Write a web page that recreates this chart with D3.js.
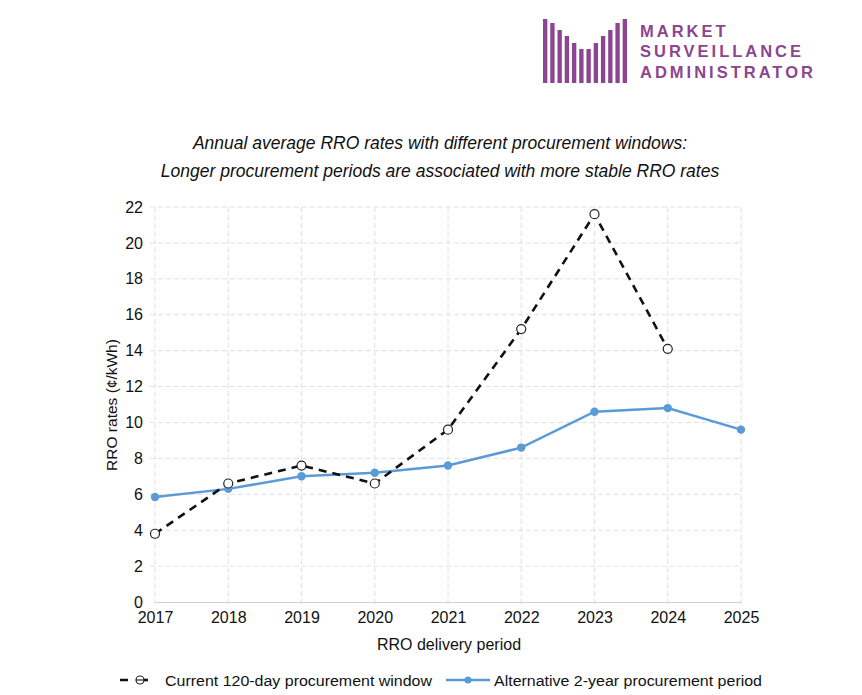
<!DOCTYPE html>
<html><head><meta charset="utf-8">
<script src="https://cdn.jsdelivr.net/npm/d3@7"></script>
<style>body{margin:0;background:#fff;} text{font-family:"Liberation Sans",Arial,sans-serif;}</style>
</head><body>
<svg id="c" width="862" height="695"></svg>
<script>
const years = [2017, 2018, 2019, 2020, 2021, 2022, 2023, 2024, 2025];
const currentYears = [2017, 2018, 2019, 2020, 2021, 2022, 2023, 2024];
const currentValues = [3.8, 6.6, 7.6, 6.6, 9.6, 15.2, 21.6, 14.1];
const altValues = [5.85, 6.3, 7.0, 7.2, 7.6, 8.6, 10.6, 10.8, 9.6];
const yTicks = [0, 2, 4, 6, 8, 10, 12, 14, 16, 18, 20, 22];
const titleLines = ["Annual average RRO rates with different procurement windows:",
                    "Longer procurement periods are associated with more stable RRO rates"];
const logoBars = [64, 60, 53, 47, 40, 34, 34, 40, 47, 53, 60, 64];
const logoWords = ["MARKET", "SURVEILLANCE", "ADMINISTRATOR"];
const legendLabels = ["Current 120-day procurement window", "Alternative 2-year procurement period"];

const svg = d3.select("#c");
const x = d3.scaleLinear().domain([2017, 2025]).range([155, 741]);
const y = d3.scaleLinear().domain([0, 22]).range([602, 207]);
const purple = "#8c4590";
const blue = "#5b9bd5";

// logo
const lx = d3.scaleBand().domain(d3.range(logoBars.length)).range([543, 627]).paddingInner(0.4);
const lh = d3.scaleLinear().domain([0, 64]).range([0, 64]);
svg.append("g").selectAll("rect").data(logoBars).join("rect")
  .attr("x", (d, i) => lx(i)).attr("width", lx.bandwidth())
  .attr("y", d => 83 - lh(d)).attr("height", d => lh(d)).attr("fill", purple);
svg.append("g").selectAll("text").data(logoWords).join("text")
  .attr("x", 640).attr("y", (d, i) => 36.5 + i * 20.5)
  .attr("font-size", 16.5).attr("font-weight", "bold").attr("letter-spacing", 3.0)
  .attr("fill", purple).text(d => d);

// title
svg.append("g").selectAll("text").data(titleLines).join("text")
  .attr("x", 440).attr("y", (d, i) => 149 + i * 28)
  .attr("text-anchor", "middle").attr("font-size", 17.5).attr("font-style", "italic")
  .attr("fill", "#111").text(d => d);

// grid
const g = svg.append("g");
g.selectAll("line.h").data(yTicks.slice(1)).join("line").attr("class", "h")
  .attr("x1", 150).attr("x2", 741).attr("y1", d => y(d)).attr("y2", d => y(d))
  .attr("stroke", "#e0e0e0").attr("stroke-width", 1).attr("stroke-dasharray", "5,3");
g.selectAll("line.v").data(years).join("line").attr("class", "v")
  .attr("x1", d => x(d)).attr("x2", d => x(d)).attr("y1", y(22)).attr("y2", y(0) + 5)
  .attr("stroke", "#e0e0e0").attr("stroke-width", 1).attr("stroke-dasharray", "5,3");

// axes
const xAxis = svg.append("g").attr("transform", `translate(0,${y(0)})`)
  .call(d3.axisBottom(x).tickValues(years).tickFormat(d3.format("d")).tickSize(0).tickPadding(10));
xAxis.select(".domain").attr("stroke", "#d0d0d0");
xAxis.selectAll("text").attr("font-size", 16).attr("fill", "#111")
  .style("font-family", '"Liberation Sans",Arial,sans-serif');
const yAxis = svg.append("g").attr("transform", `translate(${x(2017)},0)`)
  .call(d3.axisLeft(y).tickValues(yTicks).tickSize(0).tickPadding(12));
yAxis.select(".domain").remove();
yAxis.selectAll("text").attr("font-size", 16).attr("fill", "#111")
  .style("font-family", '"Liberation Sans",Arial,sans-serif');

// axis titles
svg.append("text").attr("transform", "translate(117,405) rotate(-90)")
  .attr("text-anchor", "middle").attr("font-size", 15.5).attr("fill", "#111").text("RRO rates (¢/kWh)");
svg.append("text").attr("x", 449).attr("y", 650).attr("text-anchor", "middle")
  .attr("font-size", 16).attr("fill", "#111").text("RRO delivery period");

// series
const altLine = d3.line().x((d, i) => x(years[i])).y(d => y(d));
svg.append("path").datum(altValues).attr("d", altLine)
  .attr("fill", "none").attr("stroke", blue).attr("stroke-width", 2.5);
svg.append("g").selectAll("circle").data(altValues).join("circle")
  .attr("cx", (d, i) => x(years[i])).attr("cy", d => y(d)).attr("r", 4.2).attr("fill", blue);

const curLine = d3.line().x((d, i) => x(currentYears[i])).y(d => y(d));
svg.append("path").datum(currentValues).attr("d", curLine)
  .attr("fill", "none").attr("stroke", "#111").attr("stroke-width", 2.6).attr("stroke-dasharray", "8,6");
svg.append("g").selectAll("circle").data(currentValues).join("circle")
  .attr("cx", (d, i) => x(currentYears[i])).attr("cy", d => y(d)).attr("r", 4.5)
  .attr("fill", "#fff").attr("stroke", "#222").attr("stroke-width", 1.2);

// legend
const lg = svg.append("g");
lg.append("line").attr("x1", 120).attr("x2", 160).attr("y1", 680).attr("y2", 680)
  .attr("stroke", "#111").attr("stroke-width", 2.6).attr("stroke-dasharray", "8,12");
lg.append("circle").attr("cx", 140).attr("cy", 680).attr("r", 4).attr("fill", "#fff")
  .attr("stroke", "#222").attr("stroke-width", 1.2);
lg.append("line").attr("x1", 136).attr("x2", 144).attr("y1", 680).attr("y2", 680)
  .attr("stroke", "#222").attr("stroke-width", 1.2);
lg.append("text").attr("x", 165).attr("y", 685.5).attr("font-size", 15.5).attr("fill", "#111")
  .attr("textLength", 267).attr("lengthAdjust", "spacingAndGlyphs").text(legendLabels[0]);
lg.append("line").attr("x1", 446).attr("x2", 490).attr("y1", 680).attr("y2", 680)
  .attr("stroke", blue).attr("stroke-width", 2.5);
lg.append("circle").attr("cx", 468).attr("cy", 680).attr("r", 3.5).attr("fill", blue);
lg.append("text").attr("x", 494).attr("y", 685.5).attr("font-size", 15.5).attr("fill", "#111")
  .attr("textLength", 268).attr("lengthAdjust", "spacingAndGlyphs").text(legendLabels[1]);
</script>
</body></html>
